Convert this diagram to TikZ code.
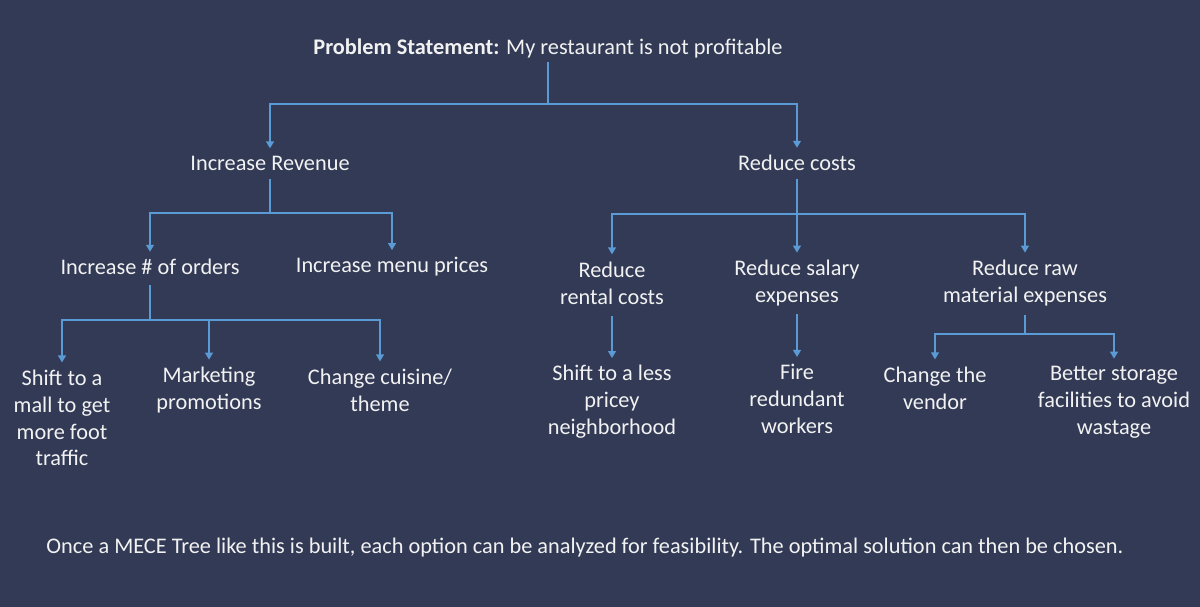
\documentclass[tikz,border=0pt]{standalone}
\usepackage{fontspec}
\setmainfont{Carlito}
\usetikzlibrary{arrows.meta}
\definecolor{bg}{HTML}{323A55}
\definecolor{ln}{HTML}{5B9BD5}
\definecolor{tx}{HTML}{F2F2F2}
\begin{document}
\begin{tikzpicture}[x=0.02cm,y=-0.02cm,
  lbl/.style={text=tx,font=\fontsize{12.7}{15.3}\selectfont,align=center,inner sep=1pt},
  conn/.style={draw=ln,line width=0.8pt},
  arr/.style={conn,-{Triangle[width=4.5pt,length=4pt]}}]
\fill[bg] (0,0) rectangle (1200,607);
\useasboundingbox (0,0) rectangle (1200,607);
\node[lbl] (ps) at (548,48) {\textbf{Problem Statement:} My restaurant is not profitable};
\node[lbl] (ir) at (270,163) {Increase Revenue};
\node[lbl] (rc) at (797,163) {Reduce costs};
\node[lbl] (io) at (150,267) {Increase \# of orders};
\node[lbl] (im) at (392,267) {Increase menu prices};
\node[lbl] (rr) at (612,283) {Reduce\\rental costs};
\node[lbl] (rs) at (797,283) {Reduce salary\\expenses};
\node[lbl] (rm) at (1025,283) {Reduce raw\\material expenses};
\node[lbl] (sm) at (62,418) {Shift to a\\mall to get\\more foot\\traffic};
\node[lbl] (mp) at (209,390) {Marketing\\promotions};
\node[lbl] (cc) at (380,390) {Change cuisine/\\theme};
\node[lbl] (sl) at (612,402) {Shift to a less\\pricey\\neighborhood};
\node[lbl] (fr) at (797,399) {Fire\\redundant\\workers};
\node[lbl] (cv) at (935,388) {Change the\\vendor};
\node[lbl] (bs) at (1114,402) {Better storage\\facilities to avoid\\wastage};
\node[lbl] (ft) at (585,548) {Once a MECE Tree like this is built, each option can be analyzed for feasibility. The optimal solution can then be chosen.};
\coordinate (j0) at (548,104);
\coordinate (j1) at (270,213);
\coordinate (j2) at (150,320);
\coordinate (j3) at (797,214);
\coordinate (j4) at (1025,334);
\draw[conn] (548,62) -- (j0);
\draw[arr] (j0) -| ([yshift=3pt]ir.north);
\draw[arr] (j0) -| ([yshift=3pt]rc.north);
\draw[conn] (270,179) -- (j1);
\draw[arr] (j1) -| ([yshift=3pt]io.north);
\draw[arr] (j1) -| ([yshift=3pt]im.north);
\draw[conn] (150,285) -- (j2);
\draw[arr] (j2) -| ([yshift=3pt]sm.north);
\draw[arr] (j2) -| ([yshift=3pt]mp.north);
\draw[arr] (j2) -| ([yshift=3pt]cc.north);
\draw[conn] (797,179) -- (j3);
\draw[arr] (j3) -| ([yshift=3pt]rr.north);
\draw[arr] (j3) -- ([yshift=3pt]rs.north);
\draw[arr] (j3) -| ([yshift=3pt]rm.north);
\draw[arr] (612,316) -- ([yshift=3pt]sl.north);
\draw[arr] (797,314) -- ([yshift=3pt]fr.north);
\draw[conn] (1025,315) -- (j4);
\draw[arr] (j4) -| ([yshift=3pt]cv.north);
\draw[arr] (j4) -| ([yshift=3pt]bs.north);
\end{tikzpicture}
\end{document}
